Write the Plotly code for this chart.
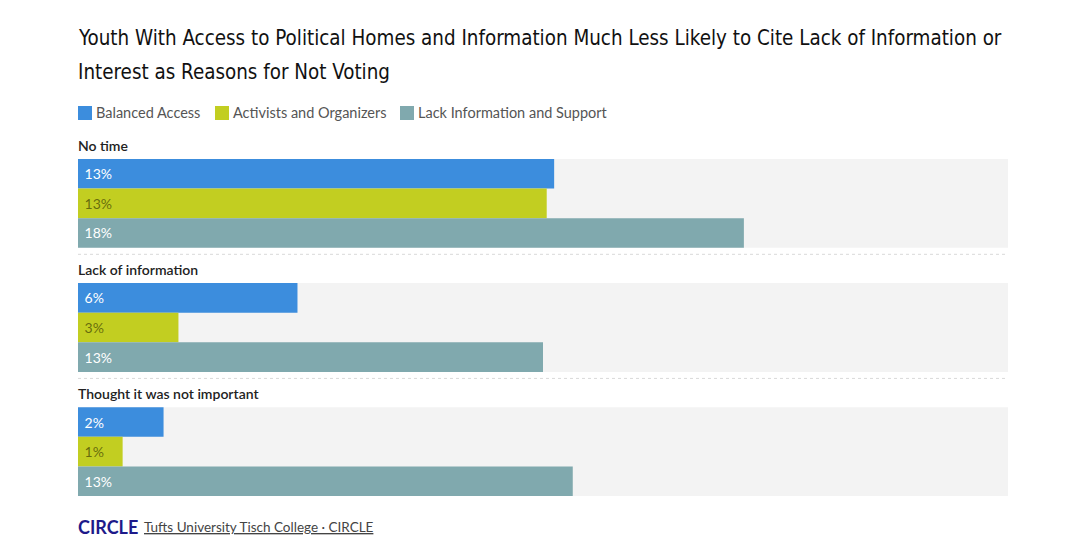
import plotly.graph_objects as go

categories = ["No time", "Lack of information", "Thought it was not important"]
series = ["Balanced Access", "Activists and Organizers", "Lack Information and Support"]
balanced = [12.8, 5.9, 2.3]
activists = [12.6, 2.7, 1.2]
lack_support = [17.9, 12.5, 13.3]
values = [balanced, activists, lack_support]

colors = ["#3c8ddd", "#c2ce21", "#80a9ae"]
text_colors = ["white", "rgba(40,40,0,0.6)", "white"]

X_MAX = 25
G = 4.193  # group pitch in bar units
W, H = 1070, 556
OFF = 8  # page body margin
L, R, T, B = 78 - OFF, 1008 - OFF, 159 - OFF, 496 - OFF

def px(x):
    return (x - OFF - L) / (R - L)

def py(y):
    return (B - (y - OFF)) / (B - T)

fig = go.Figure()

# grey background per group
fig.add_trace(go.Bar(
    x=[X_MAX] * len(categories),
    y=[i * G + 1 for i in range(len(categories))],
    width=3, orientation="h", marker=dict(color="#f3f3f3", line_width=0),
    hoverinfo="skip", showlegend=False,
))

for j, (name, vals) in enumerate(zip(series, values)):
    fig.add_trace(go.Bar(
        x=vals,
        y=[i * G + j for i in range(len(categories))],
        width=1, orientation="h", name=name,
        marker=dict(color=colors[j], line_width=0),
        text=[f" {int(v + 0.5)}%" for v in vals],
        textposition="inside", insidetextanchor="start", textangle=0,
        textfont=dict(color=text_colors[j], size=14, family="Lato"),
        showlegend=False,
    ))

annotations = []
for i, cat in enumerate(categories):
    annotations.append(dict(
        x=0, xref="paper", y=i * G - 0.5, yref="y", yanchor="bottom", xanchor="left",
        text=cat, showarrow=False, yshift=3, xshift=-2,
        font=dict(family="Lato", size=14, color="#222", weight=600),
    ))

shapes = []
for i in range(len(categories) - 1):
    yy = i * G + 2.5 + 0.22
    shapes.append(dict(type="line", xref="paper", x0=0, x1=1, yref="y", y0=yy, y1=yy,
                       line=dict(color="#d9d9d9", width=1, dash="dot")))

# legend
leg_x = [78, 215, 400]
for j, name in enumerate(series):
    shapes.append(dict(type="rect", xref="paper", yref="paper",
                       x0=px(leg_x[j]), x1=px(leg_x[j] + 14), y0=py(120), y1=py(106),
                       fillcolor=colors[j], line_width=0))
    annotations.append(dict(
        x=px(leg_x[j] + 16), xref="paper", y=py(113), yref="paper",
        xanchor="left", yanchor="middle", text=name, showarrow=False,
        font=dict(family="Lato", size=14.5, color="#555"),
    ))

# title
title_font = dict(family="DejaVu Sans Condensed", size=20.4, color="#111")
annotations.append(dict(
    x=px(76), xref="paper", y=py(52), yref="paper", xanchor="left", yanchor="bottom",
    text="Youth With Access to Political Homes and Information Much Less Likely to Cite Lack of Information or",
    showarrow=False, font=title_font,
))
annotations.append(dict(
    x=px(76), xref="paper", y=py(86), yref="paper", xanchor="left", yanchor="bottom",
    text="Interest as Reasons for Not Voting",
    showarrow=False, font=title_font,
))

# footer
annotations.append(dict(
    x=px(76), xref="paper", y=py(527), yref="paper", xanchor="left", yanchor="middle",
    text="<b>CIRCLE</b>", showarrow=False,
    font=dict(family="Lato", size=18, color="#1d1a8a", weight=900),
))
annotations.append(dict(
    x=px(142), xref="paper", y=py(527), yref="paper", xanchor="left", yanchor="middle",
    text="<u>Tufts University Tisch College · CIRCLE</u>", showarrow=False,
    font=dict(family="Lato", size=13.5, color="#444"),
))

fig.update_layout(
    width=W, height=H,
    margin=dict(l=L, r=W - R, t=T, b=H - B),
    barmode="overlay",
    plot_bgcolor="white", paper_bgcolor="white",
    xaxis=dict(range=[0, X_MAX], visible=False, fixedrange=True),
    yaxis=dict(range=[2 * G + 2.5, -0.5], visible=False, fixedrange=True),
    uniformtext=dict(minsize=14, mode="show"),
    annotations=annotations, shapes=shapes,
    showlegend=False,
)

fig.write_html("out.html")
